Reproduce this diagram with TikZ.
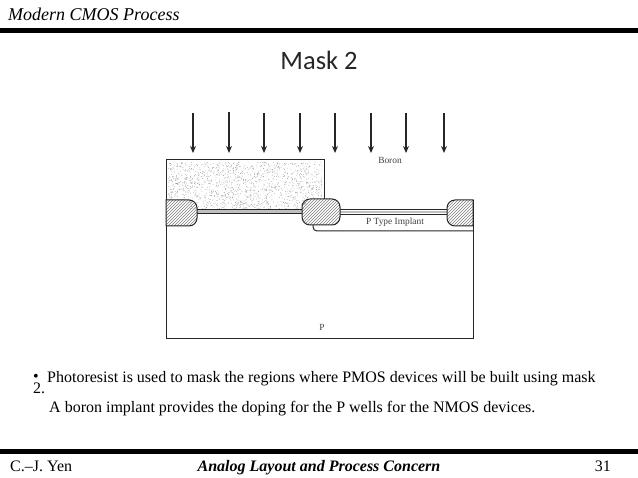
\documentclass[tikz,border=0pt]{standalone}
\usepackage{fontspec}
\setmainfont{Liberation Serif}
\newfontfamily\titlefont{Carlito}
\usetikzlibrary{arrows.meta,patterns}
\tikzset{
	wafer/.style={line width=1pt, draw=black!85},
	oxide/.style={wafer, pattern=north east lines, pattern color=black!50},
	implant/.style={-{Stealth[length=7pt,width=6pt]}, line width=1.2pt, draw=black!85},
	bar/.style={fill=black, draw=none},
	slide/.style={font=\fontsize{16}{19}\selectfont, anchor=base west, inner sep=0pt},
	tiny/.style={font=\fontsize{9.4}{11}\selectfont, text=black!75, inner sep=0pt}
}
\begin{document}
\begin{tikzpicture}[x=1pt,y=-1pt]
	\useasboundingbox (0, 0) rectangle (638, 478);
	%%%%% FRAME %%%%%
	\node[slide, font=\fontsize{18}{20}\selectfont\itshape] (header) at (8, 21) {Modern CMOS Process};
	\fill[bar] (0, 28.5) rectangle (638, 33);
	\node[font=\titlefont\fontsize{26.5}{30}\selectfont, text=black!85] (title) at (319, 60) {Mask 2};
	\fill[bar] (0, 449.5) rectangle (638, 454);
	\node[slide] (author) at (10, 471.5) {C.--J. Yen};
	\node[slide, anchor=base, font=\fontsize{16}{19}\selectfont\bfseries\itshape] (course) at (319, 471.5) {Analog Layout and Process Concern};
	\node[slide, anchor=base east] (page) at (611, 471.5) {31};
	%%%%% BOTTOM TEXT %%%%%
	\node[slide] (bullet) at (33, 382) {\textbullet};
	\node[slide] (wrapped) at (33, 393.5) {2.};
	\node[slide] (lineone) at (47, 383) {Photoresist is used to mask the regions where PMOS devices will be built using mask};
	\node[slide] (linetwo) at (49, 413) {A boron implant provides the doping for the P wells for the NMOS devices.};
	%%%%% CROSS SECTION %%%%%
	\draw[wafer] (166, 226) -- (166, 339) -- (473, 339) -- (473, 200);
	\draw[wafer] (313, 225) -- (313, 227) arc (180:270:4pt) -- (473, 231);
	% photoresist with its speckle
	\draw[wafer] (166, 210) -- (166, 160) -- (324, 160) -- (324, 210);
	\pgfmathsetseed{31}
	\foreach \n in {1,...,1500} {
		\pgfmathsetmacro{\dotx}{168+rnd*154}
		\pgfmathsetmacro{\doty}{162+rnd*47}
		\fill[black!45] (\dotx, \doty) circle (0.36);
	}
	% thin oxide
	\draw[wafer] (197, 209.5) -- (302, 209.5);
	\draw[wafer] (197, 214) -- (302, 214);
	\draw[wafer] (340, 210) -- (447, 210);
	\draw[wafer] (340, 214.5) -- (447, 214.5);
	\fill[black!25] (197, 210.5) rectangle (302, 213);
	\fill[black!25] (340, 211) rectangle (447, 213.5);
	% field oxide
	\fill[white] (166, 200) rectangle (190, 226);
	\fill[white] (306, 199) rectangle (336, 225);
	\fill[white] (452, 200) rectangle (473, 226);
	\draw[oxide] (166, 200) -- (189, 200) arc (90:0:8pt) -- (197, 218) arc (0:-90:8pt) -- (166, 226) -- cycle;
	\draw[oxide] (310, 199) -- (332, 199) arc (90:0:8pt) -- (340, 217) arc (0:-90:8pt) -- (310, 225) arc (270:180:8pt) -- (302, 207) arc (180:90:8pt) -- cycle;
	\draw[oxide] (473, 200) -- (455, 200) arc (90:180:8pt) -- (447, 218) arc (180:270:8pt) -- (473, 226) -- cycle;
	%%%%% IMPLANT ARROWS %%%%%
	\foreach \x/\top in {193/113, 229/112, 264/113, 300/113, 335/113, 371/113, 406/113, 444/113}
		\draw[implant] (\x, \top) -- (\x, 153);
	\node[tiny] (boron) at (390, 160) {Boron};
	\node[tiny] (ptype) at (395, 222) {P Type Implant};
	\node[tiny] (psub) at (322, 327) {P};
\end{tikzpicture}
\end{document}
